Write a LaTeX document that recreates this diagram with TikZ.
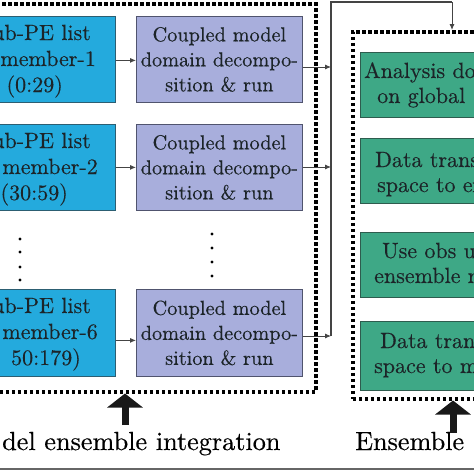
\documentclass[tikz,border=0pt]{standalone}
\usepackage{fontspec}
\newfontfamily\lmr{lmroman10-regular}[Extension=.otf, FakeBold=0.35]
\usetikzlibrary{arrows.meta}
\definecolor{cyanf}{HTML}{24AADD}
\definecolor{cyanb}{HTML}{2C5E72}
\definecolor{purpf}{HTML}{A8AEDC}
\definecolor{purpb}{HTML}{50546E}
\definecolor{greenf}{HTML}{3EA886}
\definecolor{greenb}{HTML}{2E5C4E}
\definecolor{txtc}{HTML}{1C2428}
\definecolor{linec}{HTML}{444444}
\begin{document}
\begin{tikzpicture}[x=1pt,y=-1pt,
  cyanbox/.style={draw=cyanb, fill=cyanf, line width=0.8pt, minimum width=160pt, minimum height=86pt, inner sep=0pt, anchor=north west},
  purpbox/.style={draw=purpb, fill=purpf, line width=0.8pt, minimum width=166pt, minimum height=86pt, inner sep=0pt, anchor=north west, align=center, text=txtc, font=\lmr\fontsize{20.3}{25}\selectfont},
  greenbox/.style={draw=greenb, fill=greenf, line width=0.8pt, minimum width=140pt, minimum height=65pt, inner sep=0pt, anchor=north west},
  dotbox/.style={draw=black, line width=3.5pt, dash pattern=on 3.5pt off 2.5pt, minimum width=#1, inner sep=0pt, anchor=north west},
  ltxt/.style={font=\lmr\fontsize{22}{25}\selectfont, text=txtc, inner sep=0pt, anchor=base east},
  rtxt/.style={font=\lmr\fontsize{22}{25}\selectfont, text=txtc, inner sep=0pt, anchor=base west},
  btxt/.style={font=\lmr\fontsize{26.2}{30}\selectfont, text=black, inner sep=0pt, anchor=base west},
  arr/.style={draw=linec, line width=0.9pt, -{Latex[length=6pt,width=5pt]}},
  conn/.style={draw=linec, line width=1.1pt},
  bigarr/.style={draw=black!90, line width=7pt, -{Triangle[length=14pt,width=35pt]}}
]
\useasboundingbox (0,0) rectangle (474,474);
\clip (0,0) rectangle (474,474);
\fill[white] (0,0) rectangle (474,474);

% dotted frames
\node[dotbox=334pt, minimum height=388pt] (lbox) at (-20,2) {};
\node[dotbox=150pt, minimum height=367pt] (rbox) at (351,30) {};

% left column boxes
\node[cyanbox] (c1) at (-45,16) {};
\node[cyanbox] (c2) at (-45,124) {};
\node[cyanbox, minimum height=87pt] (c3) at (-45,289) {};

\node[ltxt] (c1a) at (91,40) {ub-PE list};
\node[ltxt] (c1b) at (96,66) {member-1};
\node[ltxt] (c1c) at (63,92) {(0:29)};
\node[ltxt] (c2a) at (91,148) {ub-PE list};
\node[ltxt] (c2b) at (98,174) {member-2};
\node[ltxt] (c2c) at (68,200) {(30:59)};
\node[ltxt] (c3a) at (91,313) {ub-PE list};
\node[ltxt] (c3b) at (98,339) {member-6};
\node[ltxt] (c3c) at (81,365) {50:179)};

% middle column boxes
\node[purpbox] (p1) at (136,16) {Coupled model\\domain decompo-\\sition \& run};
\node[purpbox] (p2) at (136,124) {Coupled model\\domain decompo-\\sition \& run};
\node[purpbox, minimum height=87pt] (p3) at (136,289) {Coupled model\\domain decompo-\\sition \& run};

% vertical ellipsis dots
\foreach \yy in {239,252,267,280} \fill[black] (20,\yy) circle (1.6);
\foreach \yy in {234,248,262,276} \fill[black] (212,\yy) circle (1.6);

% arrows cyan -> purple
\draw[arr] ([yshift=-1pt]c1.east) -- ([yshift=-1pt]p1.west);
\draw[arr] (c2.east) -- (p2.west);
\draw[arr] ([yshift=-7.5pt]c3.east) -- ([yshift=-7.5pt]p3.west);

% collector line
\coordinate (j1) at (331,67);
\coordinate (j2) at (331,167);
\coordinate (j3) at (331,336);
\coordinate (vtop) at (331,2);
\coordinate (vtr) at (452,2);
\draw[conn] (j3) -- (vtop) -- (vtr);
\draw[arr] (vtr) -- (vtr |- rbox.north);
\draw[arr] (p1.east |- j1) -- (j1);
\draw[arr] (p2.east |- j2) -- (j2);
\draw[arr] (p3.east |- j3) -- (j3);

% right column boxes
\node[greenbox] (g1) at (360,52) {};
\node[greenbox] (g2) at (360,138) {};
\node[greenbox] (g3) at (360,232) {};
\node[greenbox, minimum height=69pt] (g4) at (360,321) {};

\node[rtxt] (g1a) at (364,78) {Analysis do};
\node[rtxt] (g1b) at (377,103) {on global};
\node[rtxt] (g2a) at (375,167) {Data trans};
\node[rtxt] (g2b) at (377,192) {space to ex};
\node[rtxt] (g3a) at (382,258) {Use obs u};
\node[rtxt] (g3b) at (374,283) {ensemble m};
\node[rtxt] (g4a) at (380,348) {Data trans};
\node[rtxt] (g4b) at (374,373) {space to m};

% big arrows and labels
\coordinate (la) at (125,425);
\coordinate (ra) at (453,433);
\draw[bigarr] (la) -- (la |- lbox.south);
\draw[bigarr] (ra) -- (ra |- rbox.south);
\node[btxt] (lab1) at (2,450) {del ensemble integration};
\node[btxt] (lab2) at (355,450) {Ensemble};

% bottom rule
\coordinate (bl) at (0,469);
\coordinate (br) at (474,469);
\draw[draw=black!60, line width=1.5pt] (bl) -- (br);
\end{tikzpicture}
\end{document}
